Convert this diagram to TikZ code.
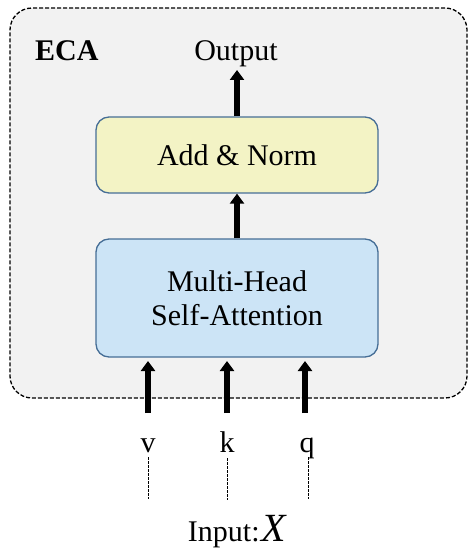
\documentclass[tikz,border=0pt]{standalone}
\usepackage{fontspec}
\setmainfont{Liberation Serif}
\usetikzlibrary{arrows.meta}
\definecolor{outerfill}{RGB}{242,242,242}
\definecolor{yelfill}{RGB}{243,243,197}
\definecolor{bluefill}{RGB}{204,228,246}
\definecolor{boxline}{RGB}{70,110,150}
\begin{document}
\begin{tikzpicture}[x=1pt,y=-1pt,
  txt/.style={font=\fontsize{30}{36}\selectfont, inner sep=0pt},
  blk/.style={draw=boxline, line width=1.3pt, rounded corners=13pt, align=center, inner sep=0pt, font=\fontsize{30}{36}\selectfont},
  fat/.style={line width=5.5pt, -{Triangle[length=10pt,width=14pt]}},
  thin/.style={line width=0.8pt, dash pattern=on 2.5pt off 1.5pt}]
\useasboundingbox (0,0) rectangle (474,553);
\node[draw=black, line width=1.3pt, dash pattern=on 4pt off 2pt, rounded corners=22pt, fill=outerfill, minimum width=457pt, minimum height=390pt, inner sep=0pt] (eca) at (238.5,203) {};
\node[txt, font=\fontsize{30}{36}\selectfont\bfseries, anchor=base west] (ecal) at (35,61) {ECA};
\node[blk, fill=yelfill, minimum width=282pt, minimum height=76pt] (add) at (237,155) {Add \& Norm};
\node[blk, fill=bluefill, minimum width=282pt, minimum height=118pt] (mhsa) at (237,298) {Multi-Head\\[-2pt]Self-Attention};
\node[txt, anchor=base] (out) at (236,61) {Output};
\coordinate (otip) at (237,70);
\draw[fat] (add.north) -- (otip);
\draw[fat] (mhsa.north) -- (add.south);
\node[txt, anchor=base] (v) at (148,452) {v};
\node[txt, anchor=base] (k) at (227,452) {k};
\node[txt, anchor=base] (q) at (307,452) {q};
\coordinate (va) at (148,413);
\coordinate (ka) at (227,413);
\coordinate (qa) at (305,413);
\draw[fat] (va) -- (148,361);
\draw[fat] (ka) -- (227,361);
\draw[fat] (qa) -- (305,361);
\node[anchor=base, inner sep=0pt] (inp) at (237,541) {\fontsize{30}{36}\selectfont Input:\hspace{2pt}{\fontsize{40}{44}\selectfont\itshape X}};
\coordinate (vd) at (148,499);
\coordinate (kd) at (227,500);
\coordinate (qd) at (308,499);
\draw[thin] (148,457) -- (vd);
\draw[thin] (227,458) -- (kd);
\draw[thin] (308,457) -- (qd);
\end{tikzpicture}
\end{document}
